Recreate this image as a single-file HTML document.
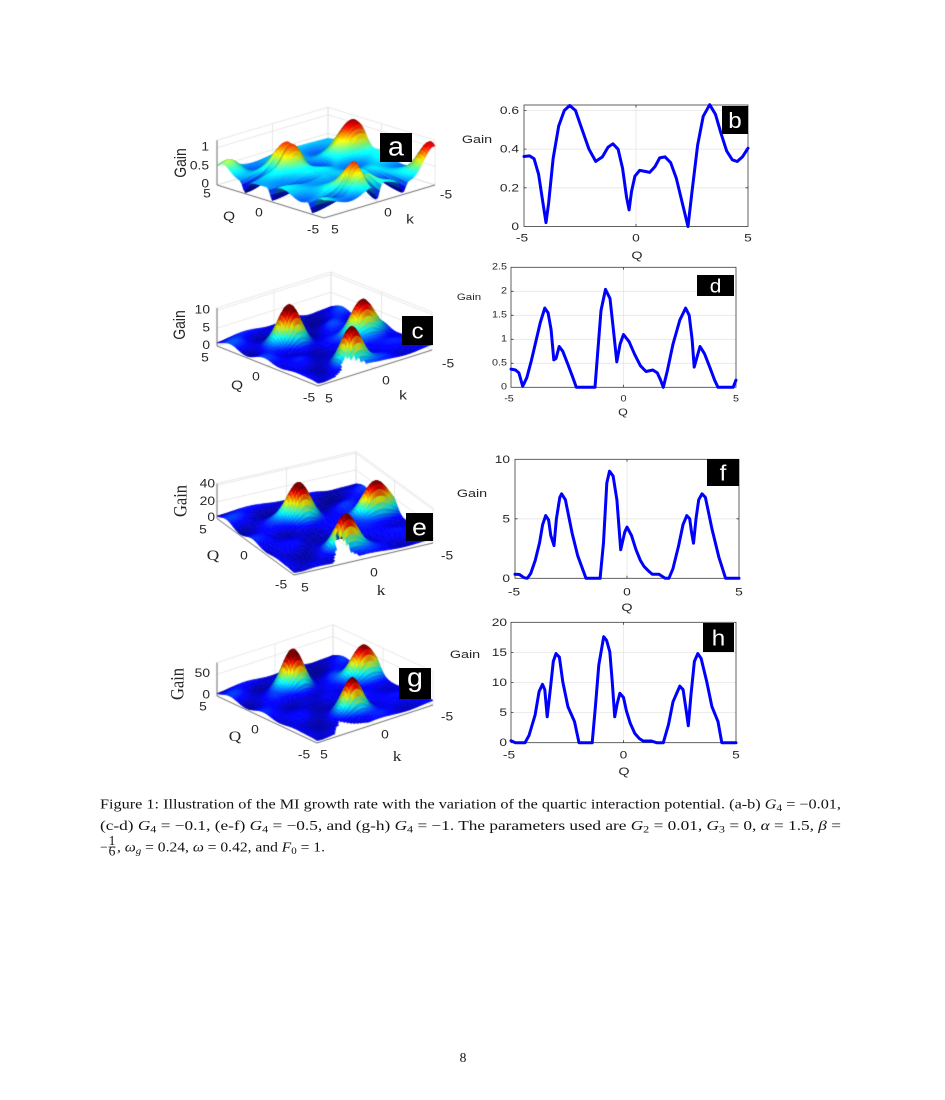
<!DOCTYPE html>
<html><head><meta charset="utf-8"><style>
html,body{margin:0;padding:0;background:#fff;}
#wrap{position:relative;width:945px;height:1100px;overflow:hidden;background:#fff;}
#cv{position:absolute;left:0;top:0;z-index:0;}
#sv{position:absolute;left:0;top:0;z-index:1;}
.s{font-family:"Liberation Sans",sans-serif;fill:#262626;}
.r{font-family:"Liberation Serif",serif;fill:#262626;}
.c{font-family:"Liberation Serif",serif;fill:#111;font-size:13.5px;}
.w{font-family:"Liberation Sans",sans-serif;fill:#fff;}
</style></head><body><div id="wrap">
<canvas id="cv" width="945" height="1100"></canvas>
<svg id="sv" width="945" height="1100" viewBox="0 0 945 1100" xmlns="http://www.w3.org/2000/svg">
<g stroke="#e6e6e6" stroke-width="0.8">
<line x1="636" y1="105" x2="636" y2="226.5"/><line x1="524" y1="110.4" x2="748" y2="110.4"/><line x1="524" y1="149.1" x2="748" y2="149.1"/><line x1="524" y1="187.8" x2="748" y2="187.8"/>
<line x1="623.5" y1="267.3" x2="623.5" y2="387.3"/><line x1="511" y1="291.3" x2="736" y2="291.3"/><line x1="511" y1="315.3" x2="736" y2="315.3"/><line x1="511" y1="339.3" x2="736" y2="339.3"/><line x1="511" y1="363.3" x2="736" y2="363.3"/>
<line x1="627" y1="459.3" x2="627" y2="578.3"/><line x1="515" y1="518.8" x2="739" y2="518.8"/>
<line x1="623.5" y1="622.3" x2="623.5" y2="742.7"/><line x1="511" y1="652.4" x2="736" y2="652.4"/><line x1="511" y1="682.5" x2="736" y2="682.5"/><line x1="511" y1="712.6" x2="736" y2="712.6"/>
</g>
<g fill="none" stroke="#3a3a3a" stroke-width="0.8">
<rect x="524" y="105" width="224" height="121.5"/>
<rect x="511" y="267.3" width="225" height="120"/>
<rect x="515" y="459.3" width="224" height="119"/>
<rect x="511" y="622.3" width="225" height="120.4"/>
<path d="M524 110.4h2.5M524 149.1h2.5M524 187.8h2.5M636 226.5v-2.5M636 105v2.5M748 110.4h-2.5M748 149.1h-2.5M748 187.8h-2.5"/>
<path d="M511 291.3h2.5M511 315.3h2.5M511 339.3h2.5M511 363.3h2.5M623.5 387.3v-2.5M623.5 267.3v2.5"/>
<path d="M515 518.8h2.5M627 578.3v-2.5M627 459.3v2.5M739 518.8h-2.5"/>
<path d="M511 652.4h2.5M511 682.5h2.5M511 712.6h2.5M623.5 742.7v-2.5M623.5 622.3v2.5"/>
</g>
<g fill="none" stroke="#0000ff" stroke-width="3" stroke-linejoin="round" stroke-linecap="round">
<polyline points="524,156.5 529.6,155.9 534.1,158.8 538.6,174.3 543,203.3 546,222.6 548.6,203.3 553.1,158.8 558.7,126 564.3,110.5 569.7,105.5 575.5,110.5 582.2,129.9 589,149.2 595.7,161.4 602.4,156.9 608,147.2 612.9,143.8 618.1,149.2 622.6,168.5 626.6,197.5 629.1,209.9 631.5,191.7 634.9,176.2 639.6,170.4 645,171.4 649.7,172.4 655,166.6 659.7,157.9 665.1,156.9 670.7,162.7 676.3,178.2 681.9,201.4 688,226.5 692,191.7 697.6,145.3 703.2,116.3 709.7,104.7 715.5,114.4 721.1,133.7 726.7,151.1 732.3,159.8 737.2,161.5 742.4,156.9 748,148.2"/>
<polyline points="511,369.1 515.5,370 518.9,372.9 522.7,386.3 526.8,377.7 531.3,360.9 535.8,341.7 540.3,322.5 544.8,308.1 548.1,312.9 551.1,329.7 553.8,359.9 556,358.5 559.2,346.5 562.8,351.3 568.4,365.7 572.9,377.7 576.3,387.3 595,387.3 597.6,353.7 601,310.5 605.5,289.4 610,298.5 613.4,329.7 616.8,361.9 620.1,344.1 623.5,334.5 629.1,341.7 634.8,354.7 640.4,365.7 646,371.5 652.8,370 657.3,372.9 660.6,380.1 663.3,387.3 667.4,370.5 673,344.1 679.8,320.1 685.6,308.1 689.2,315.3 692.1,339.3 694.2,367.1 696.6,358.5 700,346.5 704.5,353.7 710.1,368.1 714.6,380.1 718,387.3 733.1,387.3 736,380.1"/>
<polyline points="515,574.3 519.5,574.5 524,577.7 527.3,578.3 530.7,573.5 535.2,560.5 539.6,542.6 542.6,524.7 545.7,515.6 548.6,520 550.8,535.5 554,545.6 556.4,518.8 559.8,497.4 561.6,493.8 565.4,499.8 572.1,533.1 577.7,555.7 586,578.3 600.1,578.3 603.5,542.6 606.8,483.1 609.5,471.2 613.1,476 616.9,499.8 620.7,549.7 624.8,531.9 627,527.1 631.5,535.5 636,549.7 640.4,560.5 644,566.4 649.4,571.8 652.3,574.3 659,574.3 665.1,578.3 668.9,578.3 672.9,568.8 678.5,546.2 683,524.7 686.8,515.6 689.7,518.8 691.5,531.9 693.5,543.2 696,518.8 698.7,499.8 702,493.8 705.4,497.4 712.1,529.5 718.8,556.9 725.6,578.3 739,578.3"/>
<polyline points="511,740.7 515.5,742.7 525,742.7 529,735.5 535.1,715 539.1,691.5 542.5,684.3 544.8,689.7 547.2,716.8 550.4,688.5 553.3,661.4 556,653.6 559.4,657.2 562.8,681.9 567.9,706.6 574.5,721.6 579,742.7 592.2,742.7 595.4,706.6 598.8,665 603.7,636.7 606.6,640.4 609.8,651.8 612.3,682.5 614.7,716.8 617.2,703.6 619.9,693.3 623.5,697.5 626.4,710.8 630.3,723.4 634.8,733.4 639.3,738.5 643.1,741 651.4,741 656.6,742.7 663.3,742.7 668.5,724.6 673,701.8 679.8,686.1 683.1,689.7 686.5,712.6 688.3,725.8 691,694.5 694.4,661.4 697.8,653.6 701.1,658.4 706.8,681.9 711.9,706.6 718,721.6 721.8,742.7 736,742.7"/>
</g>
<g class="s" style="font-family:'Liberation Sans',sans-serif" font-family="Liberation Sans, sans-serif" font-size="11" dominant-baseline="central">
<g text-anchor="end">
<text transform="translate(519 110.4) scale(1.25 1)">0.6</text>
<text transform="translate(519 149.1) scale(1.25 1)">0.4</text>
<text transform="translate(519 187.8) scale(1.25 1)">0.2</text>
<text transform="translate(519 226.5) scale(1.25 1)">0</text>
<text transform="translate(510 459.3) scale(1.25 1)">10</text>
<text transform="translate(510 518.8) scale(1.25 1)">5</text>
<text transform="translate(510 578.3) scale(1.25 1)">0</text>
<text transform="translate(507 622.3) scale(1.25 1)">20</text>
<text transform="translate(507 652.4) scale(1.25 1)">15</text>
<text transform="translate(507 682.5) scale(1.25 1)">10</text>
<text transform="translate(507 712.6) scale(1.25 1)">5</text>
<text transform="translate(507 742.7) scale(1.25 1)">0</text>
</g>
<g text-anchor="middle">
<text transform="translate(522 238) scale(1.25 1)">-5</text>
<text transform="translate(636 238) scale(1.25 1)">0</text>
<text transform="translate(748 238) scale(1.25 1)">5</text>
<text transform="translate(514 592) scale(1.25 1)">-5</text>
<text transform="translate(627 592) scale(1.25 1)">0</text>
<text transform="translate(739 592) scale(1.25 1)">5</text>
<text transform="translate(509 755) scale(1.25 1)">-5</text>
<text transform="translate(623.5 755) scale(1.25 1)">0</text>
<text transform="translate(736 755) scale(1.25 1)">5</text>
</g>
<g text-anchor="middle" font-size="11.5">
<text transform="translate(477 139) scale(1.25 1)">Gain</text>
<text transform="translate(637 255) scale(1.25 1)">Q</text>
<text transform="translate(472 493) scale(1.25 1)">Gain</text>
<text transform="translate(627 607) scale(1.25 1)">Q</text>
<text transform="translate(465 654) scale(1.25 1)">Gain</text>
<text transform="translate(624 771) scale(1.25 1)">Q</text>
</g>
</g>
<g class="s" style="font-family:'Liberation Sans',sans-serif" font-family="Liberation Sans, sans-serif" font-size="9" dominant-baseline="central">
<g text-anchor="end">
<text transform="translate(507 267.3) scale(1.2 1)">2.5</text>
<text transform="translate(507 291.3) scale(1.2 1)">2</text>
<text transform="translate(507 315.3) scale(1.2 1)">1.5</text>
<text transform="translate(507 339.3) scale(1.2 1)">1</text>
<text transform="translate(507 363.3) scale(1.2 1)">0.5</text>
<text transform="translate(507 387.3) scale(1.2 1)">0</text>
</g>
<g text-anchor="middle">
<text transform="translate(509 399) scale(1.2 1)">-5</text>
<text transform="translate(623.5 399) scale(1.2 1)">0</text>
<text transform="translate(736 399) scale(1.2 1)">5</text>
<text transform="translate(469 298) scale(1.25 1)" font-size="9.2">Gain</text>
<text transform="translate(623 413) scale(1.25 1)" font-size="10">Q</text>
</g>
</g>
<g class="s" style="font-family:'Liberation Sans',sans-serif" font-family="Liberation Sans, sans-serif" font-size="11.5" dominant-baseline="central">
<g text-anchor="end">
<text transform="translate(209 146.7) scale(1.2 1)">1</text>
<text transform="translate(209 165.7) scale(1.2 1)">0.5</text>
<text transform="translate(209 184) scale(1.2 1)">0</text>
<text transform="translate(210 309.7) scale(1.2 1)">10</text>
<text transform="translate(210 328) scale(1.2 1)">5</text>
<text transform="translate(210 345.3) scale(1.2 1)">0</text>
<text transform="translate(215 484) scale(1.2 1)">40</text>
<text transform="translate(215 501.3) scale(1.2 1)">20</text>
<text transform="translate(215 517.3) scale(1.2 1)">0</text>
<text transform="translate(210 673.3) scale(1.2 1)">50</text>
<text transform="translate(210 695) scale(1.2 1)">0</text>
</g>
<g text-anchor="middle">
<text transform="translate(207 194) scale(1.2 1)">5</text>
<text transform="translate(259 213) scale(1.2 1)">0</text>
<text transform="translate(313 230) scale(1.2 1)">-5</text>
<text transform="translate(335 230) scale(1.2 1)">5</text>
<text transform="translate(388 213) scale(1.2 1)">0</text>
<text transform="translate(446 195) scale(1.2 1)">-5</text>
<text transform="translate(205 358) scale(1.2 1)">5</text>
<text transform="translate(256 377) scale(1.2 1)">0</text>
<text transform="translate(309 398) scale(1.2 1)">-5</text>
<text transform="translate(329 399) scale(1.2 1)">5</text>
<text transform="translate(386 381) scale(1.2 1)">0</text>
<text transform="translate(448 364) scale(1.2 1)">-5</text>
<text transform="translate(203 530) scale(1.2 1)">5</text>
<text transform="translate(244 556) scale(1.2 1)">0</text>
<text transform="translate(281 585) scale(1.2 1)">-5</text>
<text transform="translate(305 588) scale(1.2 1)">5</text>
<text transform="translate(374 573) scale(1.2 1)">0</text>
<text transform="translate(447 556) scale(1.2 1)">-5</text>
<text transform="translate(203 707) scale(1.2 1)">5</text>
<text transform="translate(255 730) scale(1.2 1)">0</text>
<text transform="translate(304 755) scale(1.2 1)">-5</text>
<text transform="translate(324 755) scale(1.2 1)">5</text>
<text transform="translate(385 735) scale(1.2 1)">0</text>
<text transform="translate(447 717) scale(1.2 1)">-5</text>
<text transform="translate(229 217) scale(1.2 1)" font-size="13">Q</text>
<text transform="translate(410 220) scale(1.2 1)" font-size="13">k</text>
<text transform="translate(237 386) scale(1.2 1)" font-size="13">Q</text>
<text transform="translate(403 396) scale(1.2 1)" font-size="13">k</text>
<text transform="translate(181 163) rotate(-90) scale(1 1.2)" font-size="14">Gain</text>
<text transform="translate(180 325) rotate(-90) scale(1 1.2)" font-size="14">Gain</text>
</g>
</g>
<g class="r" font-family="Liberation Serif, serif" dominant-baseline="central" text-anchor="middle">
<text transform="translate(213 556) scale(1.15 1)" font-size="15">Q</text>
<text transform="translate(381 591) scale(1.15 1)" font-size="15">k</text>
<text transform="translate(235 737) scale(1.15 1)" font-size="15">Q</text>
<text transform="translate(397 757) scale(1.15 1)" font-size="15">k</text>
<text transform="translate(180 501) rotate(-90) scale(1 1.15)" font-size="16.5">Gain</text>
<text transform="translate(177 684) rotate(-90) scale(1 1.15)" font-size="16.5">Gain</text>
</g>
<g fill="#000">
<rect x="380" y="133" width="32" height="29"/>
<rect x="722" y="106" width="26" height="28"/>
<rect x="402" y="316" width="31" height="29"/>
<rect x="697" y="275" width="37" height="21"/>
<rect x="406" y="513" width="27" height="28"/>
<rect x="707" y="459" width="32" height="27"/>
<rect x="399" y="668" width="32" height="31"/>
<rect x="703" y="623" width="31" height="29"/>
</g>
<g class="w" font-family="Liberation Sans, sans-serif" text-anchor="middle">
<text transform="translate(396 155.5) scale(1.1 1)" font-size="26">a</text>
<text transform="translate(735 128) scale(1.1 1)" font-size="22">b</text>
<text transform="translate(417.5 338.5) scale(1.1 1)" font-size="22">c</text>
<text transform="translate(715.5 292.5) scale(1.1 1)" font-size="19">d</text>
<text transform="translate(419.5 535.5) scale(1.1 1)" font-size="24">e</text>
<text transform="translate(723 480.5) scale(1.1 1)" font-size="22">f</text>
<text transform="translate(415 686.5) scale(1.1 1)" font-size="26">g</text>
<text transform="translate(718.5 645.5) scale(1.1 1)" font-size="22">h</text>
</g>
<g font-family="Liberation Serif, serif">
<text class="c" x="100" y="808.5" textLength="741" lengthAdjust="spacingAndGlyphs">Figure 1: Illustration of the MI growth rate with the variation of the quartic interaction potential. (a-b) <tspan font-style="italic">G</tspan><tspan font-size="9.5" dy="2.5">4</tspan><tspan dy="-2.5"> = −0.01,</tspan></text>
<text class="c" x="100" y="830" textLength="741" lengthAdjust="spacingAndGlyphs">(c-d) <tspan font-style="italic">G</tspan><tspan font-size="9.5" dy="2.5">4</tspan><tspan dy="-2.5"> = −0.1, (e-f) </tspan><tspan font-style="italic">G</tspan><tspan font-size="9.5" dy="2.5">4</tspan><tspan dy="-2.5"> = −0.5, and (g-h) </tspan><tspan font-style="italic">G</tspan><tspan font-size="9.5" dy="2.5">4</tspan><tspan dy="-2.5"> = −1. The parameters used are </tspan><tspan font-style="italic">G</tspan><tspan font-size="9.5" dy="2.5">2</tspan><tspan dy="-2.5"> = 0.01, </tspan><tspan font-style="italic">G</tspan><tspan font-size="9.5" dy="2.5">3</tspan><tspan dy="-2.5"> = 0, </tspan><tspan font-style="italic">α</tspan><tspan> = 1.5, </tspan><tspan font-style="italic">β</tspan><tspan> =</tspan></text>
<text class="c" x="100" y="851.5">−</text>
<text class="c" x="112" y="845" font-size="8.5" text-anchor="middle">1</text>
<line x1="108.5" y1="847" x2="115.5" y2="847" stroke="#111" stroke-width="0.7"/>
<text class="c" x="112" y="855.5" font-size="8.5" text-anchor="middle">6</text>
<text class="c" x="117" y="851.5" textLength="208" lengthAdjust="spacingAndGlyphs">, <tspan font-style="italic">ω</tspan><tspan font-size="9.5" dy="2.5" font-style="italic">g</tspan><tspan dy="-2.5"> = 0.24, </tspan><tspan font-style="italic">ω</tspan><tspan> = 0.42, and </tspan><tspan font-style="italic">F</tspan><tspan font-size="9.5" dy="2.5">0</tspan><tspan dy="-2.5"> = 1.</tspan></text>
<text class="c" x="463" y="1062" text-anchor="middle">8</text>
</g>
</svg>
</div>
<script>
(function(){
var cv=document.getElementById('cv');var ctx=cv.getContext('2d');
function cl(x){return x<0?0:(x>1?1:x);}
function jet(v){v=cl(v);return [cl(1.5-Math.abs(4*v-3)),cl(1.5-Math.abs(4*v-2)),cl(1.5-Math.abs(4*v-1))];}
function gb(Q,k,q,kk,h,sq,sk){var dq=(Q-q)/sq,dk=(k-kk)/sk;return h*Math.exp(-dq*dq-dk*dk);}
function sq(x){return x*x;}
function panel(P){
 var F=P.F,L=P.L,R=P.R;
 var LF=[L[0]-F[0],L[1]-F[1]],RF=[R[0]-F[0],R[1]-F[1]];
 function pr(a,b,z){return [F[0]+a*LF[0]+b*RF[0],F[1]+a*LF[1]+b*RF[1]-z*P.zs];}
 function ln(p,q){ctx.beginPath();ctx.moveTo(p[0],p[1]);ctx.lineTo(q[0],q[1]);ctx.stroke();}
 ctx.lineWidth=0.8;ctx.strokeStyle='#e2e2e2';
 var zt=P.ztop,i,j,t;
 for(i=0;i<P.zt.length;i++){var z=P.zt[i];ln(pr(1,0,z),pr(1,1,z));ln(pr(1,1,z),pr(0,1,z));}
 var ts=[0,0.5,1];
 for(i=0;i<3;i++){t=ts[i];ln(pr(1,t,0),pr(1,t,zt));ln(pr(t,1,0),pr(t,1,zt));ln(pr(t,0,0),pr(t,1,0));ln(pr(0,t,0),pr(1,t,0));}
 ln(pr(1,0,zt),pr(1,1,zt));ln(pr(1,1,zt),pr(0,1,zt));
 ctx.strokeStyle='#555';
 ln(pr(1,0,0),pr(1,0,zt));ln(pr(1,0,0),pr(0,0,0));ln(pr(0,0,0),pr(0,1,0));
 var N=64,Z=[];
 for(i=0;i<=N;i++){var row=[];for(j=0;j<=N;j++){row.push(Math.max(0,P.f(10*i/N-5,5-10*j/N)));}Z.push(row);}
 var cells=[];
 for(i=0;i<N;i++)for(j=0;j<N;j++)cells.push([i,j,(i+0.5)*LF[1]+(j+0.5)*RF[1]]);
 cells.sort(function(A,B){return A[2]-B[2];});
 var la=Math.hypot(LF[0],LF[1])/N,lb=Math.hypot(RF[0],RF[1])/N;
 var lx=-0.4,ly=-0.4,lz=1,lnn=Math.hypot(lx,ly,lz);
 for(var c=0;c<cells.length;c++){
  i=cells[c][0];j=cells[c][1];
  var a0=(i+0.5)/N,b0=(j+0.5)/N;
  if(P.hole&&P.hole(a0,b0))continue;
  var z00=Z[i][j],z10=Z[i+1][j],z01=Z[i][j+1],z11=Z[i+1][j+1];
  var zm=(z00+z10+z01+z11)/4;
  var sa=((z10+z11)-(z00+z01))/2*P.zs/la,sb=((z01+z11)-(z00+z10))/2*P.zs/lb;
  var nn=Math.hypot(sa,sb,1);
  var d=(-sa*lx-sb*ly+lz)/(nn*lnn);
  var sh=Math.max(0.55,Math.min(1.08,0.45+0.65*d));
  var col=jet(zm/P.cmax);
  var s='rgb('+Math.min(255,Math.round(col[0]*sh*255))+','+Math.min(255,Math.round(col[1]*sh*255))+','+Math.min(255,Math.round(col[2]*sh*255))+')';
  var p1=pr(i/N,j/N,z00),p2=pr((i+1)/N,j/N,z10),p3=pr((i+1)/N,(j+1)/N,z11),p4=pr(i/N,(j+1)/N,z01);
  ctx.fillStyle=s;ctx.strokeStyle=s;ctx.lineWidth=0.6;
  ctx.beginPath();ctx.moveTo(p1[0],p1[1]);ctx.lineTo(p2[0],p2[1]);ctx.lineTo(p3[0],p3[1]);ctx.lineTo(p4[0],p4[1]);ctx.closePath();ctx.fill();ctx.stroke();
 }
}
function tri(amax,b1,b2){var bc=(b1+b2)/2,hw=(b2-b1)/2;return function(a,b){return a<amax*(1-Math.abs(b-bc)/hw);};}
panel({F:[324,218],L:[217,185],R:[435,185],zs:37.3,ztop:1.2,zt:[0,0.5,1],cmax:1.2,
 f:function(Q,k){
  var z=0.37+0.08*Math.cos(1.4*Q+0.5)*Math.cos(1.2*k)+0.05*Math.sin(0.9*k+2*Q)
   +gb(Q,k,2.3,1.0,0.82,0.95,1.3)+gb(Q,k,2.0,-4.5,0.85,0.95,1.4)+gb(Q,k,-3.7,0.8,0.72,0.8,1.2)+gb(Q,k,-4.7,-4.8,0.75,0.85,1.2)+gb(Q,k,4.4,4.2,0.25,0.8,1.0);
  var wf=Math.exp(-sq((k-5)/3)),q=[-3.95,-0.2,2.35],m;
  for(m=0;m<3;m++)z*=1-0.9*wf*Math.exp(-sq((Q-q[m])/0.3));
  var wr=Math.exp(-sq((Q+5)/2.5)),kk=[0.25,-2.1];
  for(m=0;m<2;m++)z*=1-0.85*wr*Math.exp(-sq((k-kk[m])/0.3));
  z*=1-0.75*Math.exp(-sq((Q-1.65)/0.8)-sq((k+0.8)/0.9));
  return z;}});
panel({F:[318,386],L:[217,346],R:[432,350],zs:3.56,ztop:10.7,zt:[0,5,10],cmax:10.5,hole:tri(0.08,0.15,0.43),
 f:function(Q,k){
  var b=1.3+0.55*Math.cos(1.6*Q)*Math.cos(1.3*k+0.4)+0.35*Math.sin(2.1*Q+1.3*k);
  b*=1-0.6*Math.exp(-sq((k-4.5+0.755*(Q+5))/1.0));
  return Math.max(0.15,b)+gb(Q,k,1.8,1.6,9.0,0.7,1.1)+gb(Q,k,1.1,1.5,4.5,0.6,0.9)+gb(Q,k,-0.34,-3.0,9.8,0.8,1.3)+gb(Q,k,-4.0,1.0,8.5,0.65,1.0)+gb(Q,k,-3.4,1.1,4,0.6,0.9);}});
panel({F:[294,575],L:[217,518.5],R:[433,543],zs:0.833,ztop:42,zt:[0,20,40],cmax:42,hole:tri(0.14,0.28,0.48),
 f:function(Q,k){
  var b=4.5+2*Math.cos(1.6*Q)*Math.cos(1.3*k+0.4)+1.3*Math.sin(2.1*Q+1.3*k);
  b*=1-0.55*Math.exp(-sq((k-4.5+0.755*(Q+5))/1.0));
  return Math.max(0.5,b)+gb(Q,k,2.2,0.75,37,0.6,1.05)+gb(Q,k,1.5,0.6,22,0.6,0.9)+gb(Q,k,0.2,-3.7,39,0.75,1.3)+gb(Q,k,-3.6,0.4,35,0.6,1.0)+gb(Q,k,-3.0,0.5,14,0.6,0.9);}});
panel({F:[317,743],L:[217,696],R:[433,705],zs:0.433,ztop:77,zt:[0,50],cmax:80,hole:tri(0.14,0.15,0.45),
 f:function(Q,k){
  var b=8.5+3.5*Math.cos(1.6*Q)*Math.cos(1.3*k+0.4)+2.5*Math.sin(2.1*Q+1.3*k);
  b*=1-0.55*Math.exp(-sq((k-4.5+0.755*(Q+5))/1.0));
  return Math.max(1,b)+gb(Q,k,2.8,0.46,72,0.6,1.05)+gb(Q,k,2.1,0.4,45,0.6,0.9)+gb(Q,k,0.9,-4.0,74,0.75,1.3)+gb(Q,k,-3.0,0.14,64,0.6,1.0)+gb(Q,k,-2.4,0.1,28,0.6,0.9);}});
})();
</script>
</body></html>
